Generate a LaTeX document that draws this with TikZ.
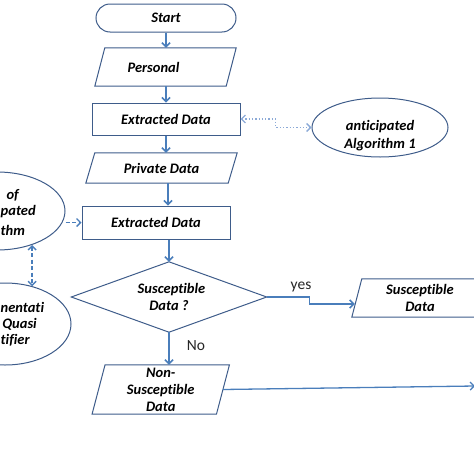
\documentclass[tikz,border=0pt]{standalone}
\usepackage{fontspec}
\setmainfont[Ligatures=NoCommon]{Carlito}
\usetikzlibrary{arrows.meta,shapes.geometric}
\definecolor{boxc}{RGB}{62,92,138}
\definecolor{arrc}{RGB}{74,126,187}
\definecolor{dotc}{RGB}{140,170,215}
\newcommand{\paral}[2]{\draw[boxline] ([xshift=#2pt]#1.north west) -- ([xshift=#2pt]#1.north east) -- ([xshift=-#2pt]#1.south east) -- ([xshift=-#2pt]#1.south west) -- cycle;}
\begin{document}
\begin{tikzpicture}[x=1pt,y=-1pt,
  boxline/.style={draw=boxc, line width=1pt},
  lbl/.style={font=\fontsize{14.5}{17}\selectfont\bfseries\itshape, align=center, text=black, inner sep=0pt},
  plain/.style={font=\fontsize{15.5}{18}\selectfont, text=black!85, inner sep=0pt},
  flow/.style={draw=arrc, line width=1.5pt, -{Straight Barb[length=4pt,width=8pt]}},
  dashline/.style={draw=arrc, line width=1.4pt, dash pattern=on 4pt off 2.5pt},
  dotline/.style={draw=dotc, line width=1.3pt, dotted}]
\useasboundingbox (0,0) rectangle (474,474);
\clip (0,0) rectangle (474,474);

% main column
\node[lbl, boxline, rounded corners=14pt, minimum width=140pt, minimum height=28pt] (start) at (166,18) {Start};
\node[lbl, minimum width=131pt, minimum height=38pt] (per) at (165.5,67) {Personal\hspace*{24pt}};
\paral{per}{5}
\node[lbl, boxline, minimum width=148pt, minimum height=32pt] (ext1) at (166,119) {Extracted Data};
\node[lbl, minimum width=142pt, minimum height=30pt] (priv) at (161.5,168) {Private Data};
\paral{priv}{4.5}
\node[lbl, boxline, minimum width=148pt, minimum height=33pt] (ext2) at (156,222.5) {Extracted Data};
\node[lbl, minimum width=195pt, minimum height=70pt] (dec) at (169,297) {\hspace*{5pt}Susceptible\\Data ?};
\draw[boxline] (dec.north) -- (dec.east) -- (dec.south) -- (dec.west) -- cycle;
\node[lbl, minimum width=126pt, minimum height=38pt] (sus) at (420,298) {Susceptible\\Data};
\paral{sus}{5}
\node[lbl, minimum width=124pt, minimum height=49pt] (non) at (160.75,389.5) {Non-\\Susceptible\\Data};
\paral{non}{6.5}

% right ellipse
\node[boxline, ellipse, minimum width=136pt, minimum height=59pt, inner sep=0pt] (alg) at (380,127.5) {};
\node[lbl, font=\fontsize{14.5}{18}\selectfont\bfseries\itshape] (algt) at (380,136) {anticipated\\Algorithm 1};

% left ellipses (cut by the frame)
\node[boxline, ellipse, minimum width=136pt, minimum height=78pt, inner sep=0pt] (le1) at (-3,211) {};
\node[lbl, anchor=east] (le1a) at (19,195) {of};
\node[lbl, anchor=west] (le1b) at (0.5,212) {pated};
\node[lbl, anchor=west] (le1c) at (0.5,230) {thm};
\node[boxline, ellipse, minimum width=132pt, minimum height=82pt, inner sep=0pt] (le2) at (5,324) {};
\node[lbl, anchor=west] (le2a) at (0.5,307) {nentati};
\node[lbl, anchor=east] (le2b) at (37,324) {Quasi};
\node[lbl, anchor=west] (le2c) at (0.5,340) {tifier};

% connectors
\draw[flow] (start.south) -- (start.south |- per.north);
\draw[flow] (ext1.north |- per.south) -- (ext1.north);
\draw[flow] (ext1.south) -- (ext1.south |- priv.north);
\draw[flow] ([xshift=6.5pt]priv.south) -- ([xshift=6.5pt]priv.south |- ext2.north);
\draw[flow] (dec.north |- ext2.south) -- (dec.north);
\draw[flow] (dec.east) -- ++(43,0) |- ([xshift=-2pt,yshift=-6pt]sus.west);
\node[plain] (yes) at (301,287) {yes};
\draw[flow] (dec.south) -- (dec.south |- non.north);
\node[plain] (no) at (196,346) {No};
\coordinate (outr) at (475,386);
\draw[flow, line width=1.3pt] (non.east) -- (outr);

\draw[dotline, {Straight Barb[length=4pt,width=8pt]}-{Straight Barb[length=4pt,width=8pt]}] (ext1.east) -- ++(35,0) |- (alg.west);
\draw[dashline, -{Straight Barb[length=4pt,width=8pt]}] (le1.east |- ext2.west) -- (ext2.west);
\draw[dashline, {Straight Barb[length=4pt,width=8pt]}-{Straight Barb[length=4pt,width=8pt]}] (le1.-44) -- (le1.-44 |- le2.54);
\end{tikzpicture}
\end{document}
